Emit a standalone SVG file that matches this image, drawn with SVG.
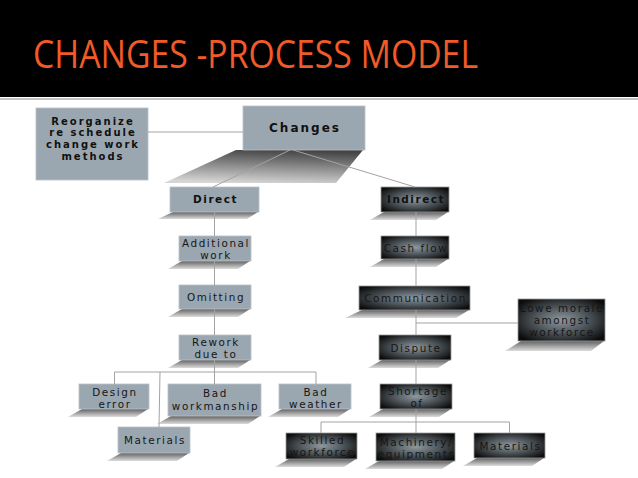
<svg xmlns="http://www.w3.org/2000/svg" width="638" height="478" viewBox="0 0 638 478">
<defs>
<radialGradient id="dkg" cx="50%" cy="50%" r="62%">
<stop offset="0" stop-color="#8e989e"/>
<stop offset="0.5" stop-color="#4d555a"/>
<stop offset="1" stop-color="#0c0c0c"/>
</radialGradient>
<linearGradient id="shg" x1="0" y1="0" x2="0" y2="1">
<stop offset="0" stop-color="#626262"/>
<stop offset="1" stop-color="#dcdcdc"/>
</linearGradient>
<linearGradient id="shbig" x1="0.6" y1="0" x2="0.4" y2="1">
<stop offset="0" stop-color="#444444"/>
<stop offset="1" stop-color="#d6d6d6"/>
</linearGradient>
<clipPath id="cp-comm"><rect x="359" y="286" width="111" height="24"/></clipPath>
<clipPath id="cp-lowe"><rect x="518" y="299" width="87" height="42"/></clipPath>
<clipPath id="cp-short"><rect x="380" y="384" width="72" height="25"/></clipPath>
<clipPath id="cp-skill"><rect x="286" y="433" width="71" height="26"/></clipPath>
<clipPath id="cp-mach"><rect x="376" y="433" width="79" height="28"/></clipPath>
</defs>
<style>
.lt{fill:#9ba7b0;stroke:#b8c1c7;stroke-width:0.8}
.dk{fill:url(#dkg);stroke:#9a9a9a;stroke-width:0.8}
.sh{fill:url(#shg)}
.t{font-family:"DejaVu Sans",Verdana,sans-serif;font-size:10.4px;letter-spacing:1.6px;text-anchor:middle;fill:#161616}
.b{font-weight:bold;fill:#111}
.c{stroke:#a3a3a3;stroke-width:1;fill:none}
</style>
<rect x="0" y="0" width="638" height="478" fill="#ffffff"/>
<rect x="0" y="0" width="638" height="97" fill="#000000"/>
<line x1="0" y1="99" x2="638" y2="99" stroke="#c4c4c4" stroke-width="2"/>
<text x="33" y="68" font-family="'Open Sans','Noto Sans',sans-serif" font-size="38" fill="#f15a29" textLength="445" lengthAdjust="spacingAndGlyphs">CHANGES -PROCESS MODEL</text>

<g id="n-reorganize">
<rect class="lt" x="36" y="108" width="112" height="72"/>
<text class="t b" style="font-size:10px;letter-spacing:2px">
<tspan x="93" y="124.5">Reorganize</tspan><tspan x="93" y="136.2">re schedule</tspan><tspan x="93" y="147.9">change work</tspan><tspan x="93" y="159.6">methods</tspan></text>
</g>
<g id="n-changes">
<polygon points="236,150 363,150 336,183 164,183" fill="url(#shbig)"/>
<rect class="lt" x="243" y="106" width="122" height="44"/>
<text class="t b" x="305" y="132" style="font-size:12px;letter-spacing:2px">Changes</text>
</g>
<g id="n-direct">
<polygon class="sh" points="173,212 258,212 247,219 158,219"/>
<rect class="lt" x="170" y="187" width="89" height="25"/>
<text class="t b" x="215.5" y="203" style="font-size:10.5px;letter-spacing:1.5px">Direct</text>
</g>
<g id="n-additional">
<polygon class="sh" points="182,261 250,261 238,269 168,269"/>
<rect class="lt" x="179" y="236" width="72" height="25"/>
<text class="t"><tspan x="216" y="246.5">Additional</tspan><tspan x="216" y="258.5">work</tspan></text>
</g>
<g id="n-omitting">
<polygon class="sh" points="182,309 250,309 238,317 168,317"/>
<rect class="lt" x="179" y="285" width="72" height="24"/>
<text class="t" x="216" y="301">Omitting</text>
</g>
<g id="n-rework">
<polygon class="sh" points="182,360 250,360 238,368 168,368"/>
<rect class="lt" x="179" y="335" width="72" height="25"/>
<text class="t"><tspan x="216" y="345.5">Rework</tspan><tspan x="216" y="357.5">due to</tspan></text>
</g>
<g id="n-design">
<polygon class="sh" points="82,409 148,409 136,417 68,417"/>
<rect class="lt" x="79" y="384" width="70" height="25"/>
<text class="t"><tspan x="115" y="395.5">Design</tspan><tspan x="115" y="407.5">error</tspan></text>
</g>
<g id="n-badwork">
<polygon class="sh" points="171,416 260,416 248,424 157,424"/>
<rect class="lt" x="168" y="384" width="93" height="32"/>
<text class="t"><tspan x="215.5" y="397">Bad</tspan><tspan x="215.5" y="409.5">workmanship</tspan></text>
</g>
<g id="n-badweather">
<polygon class="sh" points="282,409 350,409 338,417 268,417"/>
<rect class="lt" x="279" y="384" width="72" height="25"/>
<text class="t"><tspan x="316" y="395.5">Bad</tspan><tspan x="316" y="407.5">weather</tspan></text>
</g>
<g id="n-materials-left">
<polygon class="sh" points="121,453 189,453 177,461 107,461"/>
<rect class="lt" x="118" y="427" width="72" height="26"/>
<text class="t" x="155" y="443.5">Materials</text>
</g>

<g id="n-indirect">
<polygon class="sh" points="384,212 448,212 436,220 370,220"/>
<rect class="dk" x="381" y="187" width="68" height="25"/>
<text class="t b" x="416" y="203" style="font-size:10.5px;letter-spacing:1.5px">Indirect</text>
</g>
<g id="n-cashflow">
<polygon class="sh" points="384,259 448,259 436,267 370,267"/>
<rect class="dk" x="381" y="236" width="68" height="23"/>
<text class="t" x="416" y="251.5">Cash flow</text>
</g>
<g id="n-communication">
<polygon class="sh" points="362,310 469,310 456,318 345,318"/>
<rect class="dk" x="359" y="286" width="111" height="24"/>
<text class="t" x="415.5" y="301.5" clip-path="url(#cp-comm)">Communication</text>
</g>
<g id="n-lowe">
<polygon class="sh" points="521,341 604,341 591,351 505,351"/>
<rect class="dk" x="518" y="299" width="87" height="42"/>
<text class="t" clip-path="url(#cp-lowe)"><tspan x="562" y="311.5">Lowe morale</tspan><tspan x="562" y="323.5">amongst</tspan><tspan x="562" y="335.5">workforce</tspan></text>
</g>
<g id="n-dispute">
<polygon class="sh" points="382,360 450,360 438,368 368,368"/>
<rect class="dk" x="379" y="335" width="72" height="25"/>
<text class="t" x="416" y="351.5">Dispute</text>
</g>
<g id="n-shortage">
<polygon class="sh" points="383,409 451,409 439,417 369,417"/>
<rect class="dk" x="380" y="384" width="72" height="25"/>
<text class="t" clip-path="url(#cp-short)"><tspan x="418" y="395">Shortage</tspan><tspan x="417" y="407">of</tspan></text>
</g>
<g id="n-skilled">
<polygon class="sh" points="289,459 356,459 344,467 275,467"/>
<rect class="dk" x="286" y="433" width="71" height="26"/>
<text class="t" clip-path="url(#cp-skill)"><tspan x="322.5" y="444">Skilled</tspan><tspan x="322.5" y="456">workforce</tspan></text>
</g>
<g id="n-machinery">
<polygon class="sh" points="379,461 454,461 442,469 365,469"/>
<rect class="dk" x="376" y="433" width="79" height="28"/>
<text class="t" clip-path="url(#cp-mach)"><tspan x="416.5" y="446">Machinery/</tspan><tspan x="416.5" y="458">equipments</tspan></text>
</g>
<g id="n-materials-right">
<polygon class="sh" points="477,458 544,458 532,466 463,466"/>
<rect class="dk" x="474" y="433" width="71" height="25"/>
<text class="t" x="510.5" y="449.5">Materials</text>
</g>

<g id="connectors" class="c">
<line x1="148" y1="132" x2="243" y2="132"/>
<line x1="290" y1="150" x2="213" y2="187"/>
<line x1="293" y1="150" x2="415" y2="187"/>
<line x1="214.5" y1="212" x2="214.5" y2="236"/>
<line x1="214.5" y1="261" x2="214.5" y2="285"/>
<line x1="214.5" y1="309" x2="214.5" y2="335"/>
<line x1="214.5" y1="360" x2="214.5" y2="384"/>
<polyline points="114.5,384 114.5,372 316,372 316,384"/>
<line x1="160" y1="372" x2="159" y2="427"/>
<line x1="416" y1="212" x2="416" y2="236"/>
<line x1="416" y1="259" x2="416" y2="286"/>
<line x1="416" y1="310" x2="416" y2="335"/>
<line x1="416" y1="323" x2="518" y2="323"/>
<line x1="416" y1="360" x2="416" y2="384"/>
<line x1="416" y1="409" x2="416" y2="433"/>
<polyline points="321,433 321,422 509.5,422 509.5,433"/>
</g>
</svg>
